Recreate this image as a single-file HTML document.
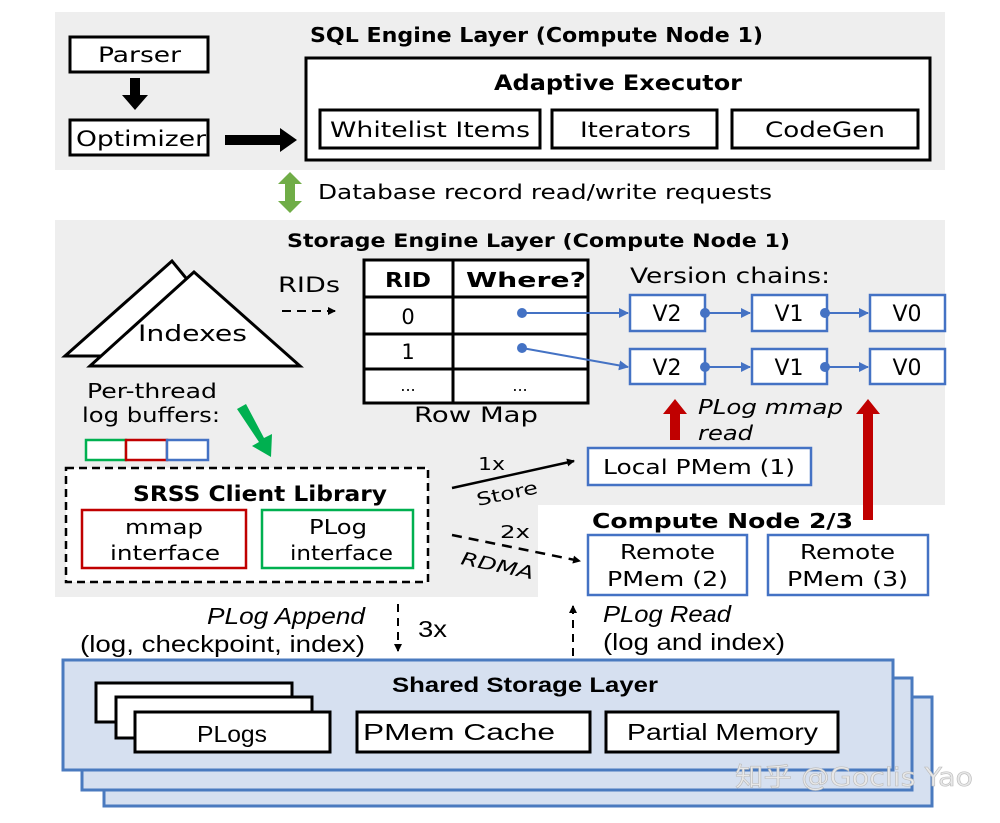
<!DOCTYPE html>
<html><head><meta charset="utf-8"><style>
body{margin:0;background:#fff;}
svg text{font-family:"DejaVu Sans","Noto Sans CJK SC",sans-serif;}
.c{font-family:"Liberation Sans",sans-serif !important;}
</style></head><body>
<svg width="1000" height="818" viewBox="0 0 1000 818" xmlns="http://www.w3.org/2000/svg">
<defs>
<marker id="ab" markerWidth="8" markerHeight="8" refX="7" refY="4" orient="auto" markerUnits="userSpaceOnUse"><path d="M0,0 L8,4 L0,8 z" fill="#000"/></marker>
<marker id="abl" markerWidth="10" markerHeight="10" refX="9" refY="5" orient="auto" markerUnits="userSpaceOnUse"><path d="M0,0 L10,5 L0,10 z" fill="#4472c4"/></marker>
</defs>
<rect x="55" y="12" width="890" height="158" fill="#eeeeee"/>
<path d="M55,220 H945 V505 H538 V597 H55 Z" fill="#eeeeee"/>
<text x="310" y="42" font-size="20" font-weight="bold" textLength="453" lengthAdjust="spacingAndGlyphs">SQL Engine Layer (Compute Node 1)</text>
<rect x="70" y="37" width="138" height="35" fill="#fff" stroke="#000" stroke-width="3"/>
<text x="98" y="62" font-size="21" textLength="83" lengthAdjust="spacingAndGlyphs">Parser</text>
<rect x="70" y="120" width="138" height="35" fill="#fff" stroke="#000" stroke-width="3"/>
<text x="76" y="146" font-size="21" textLength="130" lengthAdjust="spacingAndGlyphs">Optimizer</text>
<path d="M130,78 H140 V95 H148 L135,110 L122,95 H130 Z" fill="#000"/>
<path d="M225,135 H280 V128 L297,140 L280,152 V145 H225 Z" fill="#000"/>
<rect x="306" y="58" width="624" height="102" fill="#fff" stroke="#000" stroke-width="3"/>
<text x="494" y="90" font-size="21" font-weight="bold" textLength="248" lengthAdjust="spacingAndGlyphs">Adaptive Executor</text>
<rect x="320" y="110" width="220" height="38" fill="#fff" stroke="#000" stroke-width="3"/>
<text x="330" y="137" font-size="21" textLength="200" lengthAdjust="spacingAndGlyphs">Whitelist Items</text>
<rect x="552" y="110" width="165" height="38" fill="#fff" stroke="#000" stroke-width="3"/>
<text x="580" y="137" font-size="21" textLength="111" lengthAdjust="spacingAndGlyphs">Iterators</text>
<rect x="732" y="110" width="186" height="38" fill="#fff" stroke="#000" stroke-width="3"/>
<text x="765" y="137" font-size="21" textLength="120" lengthAdjust="spacingAndGlyphs">CodeGen</text>
<path d="M290,172 L302,184 H295 V201 H302 L290,213 L278,201 H285 V184 H278 Z" fill="#70ad47"/>
<text x="318" y="199" font-size="20" textLength="454" lengthAdjust="spacingAndGlyphs">Database record read/write requests</text>
<text x="287" y="247" font-size="19" font-weight="bold" textLength="503" lengthAdjust="spacingAndGlyphs">Storage Engine Layer (Compute Node 1)</text>
<path d="M172,261 L65,356 L250,356 Z" fill="#fff" stroke="#000" stroke-width="3"/>
<path d="M194,272 L90,366 L300,366 Z" fill="#fff" stroke="#000" stroke-width="3"/>
<text x="138" y="341" font-size="22" textLength="109" lengthAdjust="spacingAndGlyphs">Indexes</text>
<text x="278" y="292" font-size="21" textLength="62" lengthAdjust="spacingAndGlyphs">RIDs</text>
<line x1="282" y1="311" x2="335" y2="311" stroke="#000" stroke-width="2" stroke-dasharray="9,6" marker-end="url(#ab)"/>
<rect x="364" y="260" width="224" height="143" fill="#fff" stroke="#000" stroke-width="3"/>
<line x1="453" y1="260" x2="453" y2="403" stroke="#000" stroke-width="3"/>
<line x1="364" y1="297" x2="588" y2="297" stroke="#000" stroke-width="3"/>
<line x1="364" y1="334" x2="588" y2="334" stroke="#000" stroke-width="3"/>
<line x1="364" y1="369" x2="588" y2="369" stroke="#000" stroke-width="3"/>
<text x="385" y="287" font-size="20" font-weight="bold" textLength="46" lengthAdjust="spacingAndGlyphs">RID</text>
<text x="466" y="287" font-size="20" font-weight="bold" textLength="120" lengthAdjust="spacingAndGlyphs">Where?</text>
<text x="408" y="324" font-size="21" text-anchor="middle">0</text>
<text x="408" y="359" font-size="21" text-anchor="middle">1</text>
<text x="408" y="391" font-size="16" text-anchor="middle">...</text>
<text x="520" y="391" font-size="16" text-anchor="middle">...</text>
<text x="414" y="422" font-size="21" textLength="124" lengthAdjust="spacingAndGlyphs">Row Map</text>
<text x="630" y="283" font-size="21" textLength="200" lengthAdjust="spacingAndGlyphs">Version chains:</text>
<g fill="#fff" stroke="#4472c4" stroke-width="2.5">
<rect x="630" y="295" width="75" height="36"/><rect x="752" y="295" width="75" height="36"/><rect x="870" y="295" width="75" height="36"/>
<rect x="630" y="349" width="75" height="35"/><rect x="752" y="349" width="75" height="35"/><rect x="870" y="349" width="75" height="35"/>
</g>
<g font-size="22" text-anchor="middle">
<text x="667" y="321">V2</text><text x="789" y="321">V1</text><text x="907" y="321">V0</text>
<text x="667" y="375">V2</text><text x="789" y="375">V1</text><text x="907" y="375">V0</text>
</g>
<g stroke="#4472c4" stroke-width="2" fill="none">
<line x1="522" y1="313" x2="628" y2="313" marker-end="url(#abl)"/>
<line x1="522" y1="348" x2="628" y2="367" marker-end="url(#abl)"/>
<line x1="705" y1="313" x2="750" y2="313" marker-end="url(#abl)"/>
<line x1="825" y1="313" x2="868" y2="313" marker-end="url(#abl)"/>
<line x1="705" y1="367" x2="750" y2="367" marker-end="url(#abl)"/>
<line x1="825" y1="367" x2="868" y2="367" marker-end="url(#abl)"/>
</g>
<g fill="#4472c4"><circle cx="522" cy="313" r="5"/><circle cx="522" cy="348" r="5"/><circle cx="705" cy="313" r="5"/><circle cx="825" cy="313" r="5"/><circle cx="705" cy="367" r="5"/><circle cx="825" cy="367" r="5"/></g>
<path d="M670,440 V414 H663 L675,399 L687,414 H680 V440 Z" fill="#c00000"/>
<path d="M863,520 V414 H856 L868,399 L880,414 H873 V520 Z" fill="#c00000"/>
<text x="698" y="414" font-size="20" font-style="italic" textLength="145" lengthAdjust="spacingAndGlyphs">PLog mmap</text>
<text x="698" y="440" font-size="20" font-style="italic" textLength="55" lengthAdjust="spacingAndGlyphs">read</text>
<rect x="588" y="448" width="223" height="37" fill="#fff" stroke="#4472c4" stroke-width="2.5"/>
<text x="603" y="474" font-size="20" textLength="192" lengthAdjust="spacingAndGlyphs">Local PMem (1)</text>
<text x="87" y="398" font-size="20" textLength="130" lengthAdjust="spacingAndGlyphs">Per-thread</text>
<text x="82" y="422" font-size="20" textLength="138" lengthAdjust="spacingAndGlyphs">log buffers:</text>
<rect x="86" y="440" width="40" height="20" fill="#fff" stroke="#00b050" stroke-width="2.5"/>
<rect x="126" y="440" width="41" height="20" fill="#fff" stroke="#c00000" stroke-width="2.5"/>
<rect x="167" y="440" width="41" height="20" fill="#fff" stroke="#4472c4" stroke-width="2.5"/>
<path d="M237,409 L246,404 L264,438 L272,434 L271,457 L252,446 L259,442 Z" fill="#00b050"/>
<rect x="66" y="468" width="362" height="114" fill="#fff" stroke="#000" stroke-width="2.5" stroke-dasharray="8,5"/>
<text x="133" y="501" font-size="21" font-weight="bold" textLength="254" lengthAdjust="spacingAndGlyphs">SRSS Client Library</text>
<rect x="82" y="510" width="164" height="58" fill="#fff" stroke="#c00000" stroke-width="2.5"/>
<text x="125" y="534" font-size="20" textLength="78" lengthAdjust="spacingAndGlyphs">mmap</text>
<text x="110" y="560" font-size="20" textLength="110" lengthAdjust="spacingAndGlyphs">interface</text>
<rect x="262" y="510" width="151" height="58" fill="#fff" stroke="#00b050" stroke-width="2.5"/>
<text x="309" y="534" font-size="20" textLength="58" lengthAdjust="spacingAndGlyphs">PLog</text>
<text x="290" y="560" font-size="20" textLength="103" lengthAdjust="spacingAndGlyphs">interface</text>
<line x1="452" y1="488" x2="574" y2="461" stroke="#000" stroke-width="2.5" marker-end="url(#ab)"/>
<text x="478" y="470" font-size="18" textLength="27" lengthAdjust="spacingAndGlyphs">1x</text>
<text x="478" y="506" font-size="18" transform="rotate(-12 478 506)" textLength="62" lengthAdjust="spacingAndGlyphs">Store</text>
<line x1="452" y1="535" x2="580" y2="561" stroke="#000" stroke-width="2.5" stroke-dasharray="10,7" marker-end="url(#ab)"/>
<text x="500" y="538" font-size="18" textLength="30" lengthAdjust="spacingAndGlyphs">2x</text>
<text x="460" y="564" font-size="18" font-style="italic" transform="rotate(12 460 564)" textLength="74" lengthAdjust="spacingAndGlyphs">RDMA</text>
<text x="592" y="528" font-size="20" font-weight="bold" textLength="261" lengthAdjust="spacingAndGlyphs">Compute Node 2/3</text>
<rect x="588" y="535" width="159" height="60" fill="#fff" stroke="#4472c4" stroke-width="2.5"/>
<text x="620" y="559" font-size="20" textLength="95" lengthAdjust="spacingAndGlyphs">Remote</text>
<text x="607" y="586" font-size="20" textLength="121" lengthAdjust="spacingAndGlyphs">PMem (2)</text>
<rect x="768" y="535" width="160" height="60" fill="#fff" stroke="#4472c4" stroke-width="2.5"/>
<text x="800" y="559" font-size="20" textLength="95" lengthAdjust="spacingAndGlyphs">Remote</text>
<text x="787" y="586" font-size="20" textLength="121" lengthAdjust="spacingAndGlyphs">PMem (3)</text>
<text class="c" x="207" y="624" font-size="23" font-style="italic" textLength="158" lengthAdjust="spacingAndGlyphs">PLog Append</text>
<text class="c" x="80" y="652" font-size="23" textLength="285" lengthAdjust="spacingAndGlyphs">(log, checkpoint, index)</text>
<line x1="398" y1="604" x2="398" y2="651" stroke="#000" stroke-width="2" stroke-dasharray="8,6" marker-end="url(#ab)"/>
<text class="c" x="418" y="637" font-size="23" textLength="29" lengthAdjust="spacingAndGlyphs">3x</text>
<line x1="573" y1="656" x2="573" y2="606" stroke="#000" stroke-width="2" stroke-dasharray="8,6" marker-end="url(#ab)"/>
<text class="c" x="603" y="622" font-size="23" font-style="italic" textLength="128" lengthAdjust="spacingAndGlyphs">PLog Read</text>
<text class="c" x="603" y="650" font-size="23" textLength="182" lengthAdjust="spacingAndGlyphs">(log and index)</text>
<rect x="104" y="697" width="828" height="109" fill="#d6e0f0" stroke="#4a7abf" stroke-width="3"/>
<rect x="82" y="678" width="830" height="112" fill="#d6e0f0" stroke="#4a7abf" stroke-width="3"/>
<rect x="63" y="660" width="830" height="110" fill="#d6e0f0" stroke="#4a7abf" stroke-width="3"/>
<text class="c" x="392" y="692" font-size="21" font-weight="bold" textLength="266" lengthAdjust="spacingAndGlyphs">Shared Storage Layer</text>
<rect x="96" y="683" width="196" height="39" fill="#fff" stroke="#000" stroke-width="3"/>
<rect x="116" y="697" width="196" height="41" fill="#fff" stroke="#000" stroke-width="3"/>
<rect x="135" y="712" width="195" height="40" fill="#fff" stroke="#000" stroke-width="3"/>
<text class="c" x="197" y="742" font-size="23" textLength="70" lengthAdjust="spacingAndGlyphs">PLogs</text>
<rect x="357" y="712" width="233" height="40" fill="#fff" stroke="#000" stroke-width="3"/>
<text class="c" x="363" y="740" font-size="23" textLength="192" lengthAdjust="spacingAndGlyphs">PMem Cache</text>
<rect x="606" y="712" width="232" height="40" fill="#fff" stroke="#000" stroke-width="3"/>
<text class="c" x="627" y="740" font-size="23" textLength="191" lengthAdjust="spacingAndGlyphs">Partial Memory</text>
<text x="735" y="786" font-size="26" fill="#e8e8e8" stroke="#bbb" stroke-width="0.6" textLength="238" lengthAdjust="spacingAndGlyphs">知乎 @Goclis Yao</text>
</svg>
</body></html>
